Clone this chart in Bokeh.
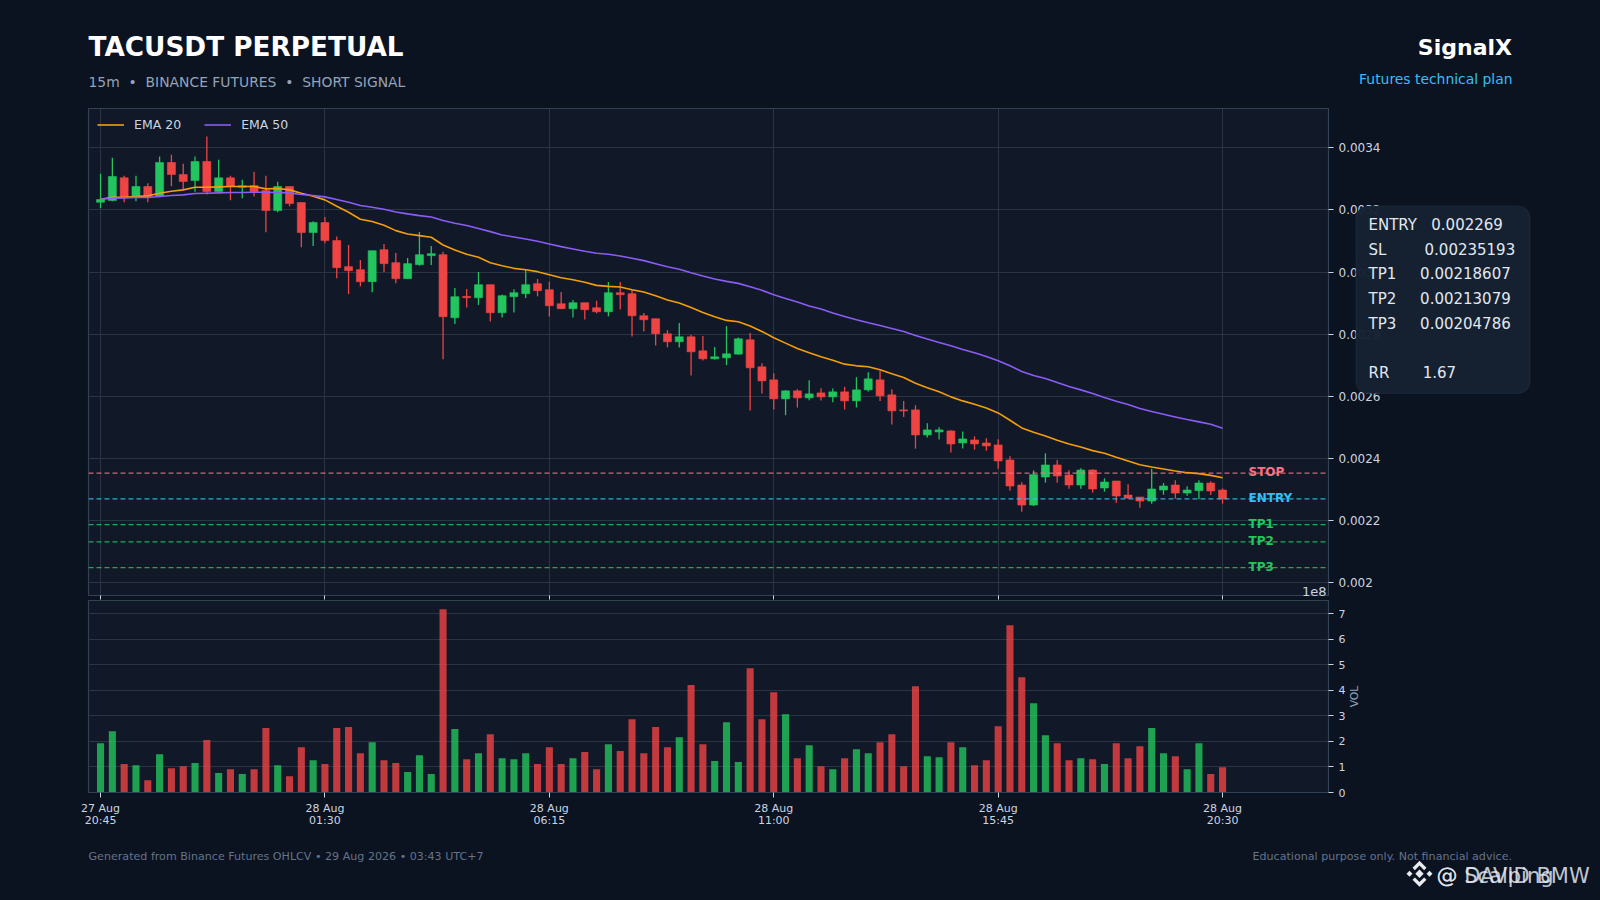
import numpy as np
from bokeh.embed import file_html
from bokeh.resources import INLINE
from bokeh.layouts import column
from bokeh.models import (BoxAnnotation, ColumnDataSource, FixedTicker, Label, Legend, LegendItem,
                          PolyAnnotation, Range1d, Span)
from bokeh.plotting import figure

UNIT = 1e-6  # the price lists below are written in millionths of a USDT
opens = [3224.7,3230.1,3303.2,3240.9,3275.3,3243.0,3352.7,3314.0,3294.6,3355.9,3259.1,3303.2,3273.1,3278.5,3262.4,3197.9,
         3275.3,3223.7,3126.9,3159.1,3101.1,3017.2,3007.5,2968.8,3072.0,3030.1,2978.5,3023.7,3052.7,3055.9,2852.7,2921.5,
         2917.2,2959.1,2868.8,2920.4,2930.1,2962.4,2943.0,2897.8,2881.7,2901.1,2884.9,2872.0,2933.3,2930.1,2859.1,2849.5,
         2801.1,2775.3,2791.4,2746.2,2720.4,2723.6,2735.5,2781.7,2694.6,2652.7,2591.4,2617.2,2594.6,2610.7,2597.8,2614.0,
         2584.9,2620.4,2652.7,2604.3,2555.9,2555.9,2475.2,2484.9,2488.2,2449.4,2459.1,2449.4,2443.0,2394.6,2314.0,2249.4,
         2339.8,2378.5,2346.2,2314.0,2362.3,2304.3,2326.9,2281.7,2275.2,2262.3,2297.8,2314.0,2288.1,2295.7,2320.4,2297.8]
closes = [3233.3,3307.5,3238.7,3275.3,3243.0,3352.7,3314.0,3291.4,3355.9,3259.1,3303.2,3275.3,3277.4,3258.1,3197.9,3275.3,
          3220.4,3126.9,3159.1,3101.1,3014.0,3004.3,2968.8,3068.8,3026.9,2978.5,3026.9,3055.9,3059.1,2855.9,2920.4,2917.2,
          2959.1,2868.8,2923.6,2933.3,2959.1,2939.8,2891.4,2881.7,2901.1,2878.5,2872.0,2933.3,2926.9,2859.1,2846.2,2801.1,
          2775.3,2791.4,2743.0,2720.4,2726.9,2736.5,2784.9,2691.4,2649.4,2591.4,2617.2,2594.6,2607.5,2597.8,2614.0,2584.9,
          2620.4,2655.9,2601.1,2552.7,2552.7,2475.2,2491.4,2491.4,2446.2,2462.3,2446.2,2439.8,2391.4,2310.7,2249.4,2347.3,
          2378.5,2343.0,2314.0,2362.3,2301.1,2323.6,2278.5,2272.0,2262.3,2301.1,2310.7,2288.1,2297.8,2320.4,2294.6,2269.0]
highs = [3316.1,3367.7,3309.7,3309.7,3286.0,3372.0,3377.4,3348.4,3372.0,3436.6,3361.3,3309.7,3296.8,3322.6,3309.7,3290.3,
         3275.3,3223.7,3163.4,3177.4,3114.0,3087.1,3038.7,3068.8,3090.3,3061.3,3045.2,3129.0,3083.9,3065.6,2948.4,2945.2,
         3000.0,2959.1,2927.9,2944.1,3006.4,2977.4,2968.8,2935.5,2909.7,2901.1,2907.5,2967.7,2967.7,2941.9,2867.7,2849.5,
         2812.9,2835.5,2797.8,2793.5,2758.1,2825.8,2789.2,2803.2,2706.4,2674.2,2619.3,2622.6,2651.6,2625.8,2624.7,2630.1,
         2661.3,2677.4,2681.7,2622.6,2584.9,2571.0,2512.9,2500.0,2490.3,2486.0,2470.9,2464.5,2461.3,2406.4,2322.6,2361.3,
         2416.1,2394.6,2361.3,2367.7,2364.5,2335.5,2326.9,2316.1,2275.2,2366.6,2320.4,2329.0,2309.7,2329.0,2325.8,2303.2]
lows = [3205.4,3228.0,3224.7,3228.0,3224.7,3240.9,3276.3,3266.7,3258.1,3249.5,3258.1,3231.2,3237.6,3243.0,3128.0,3192.5,
        3211.8,3079.6,3083.9,3092.5,2979.6,2929.0,2953.8,2934.4,3000.0,2963.4,2978.5,3020.4,3022.6,2719.3,2832.2,2886.0,
        2893.5,2840.9,2853.8,2869.9,2916.1,2921.5,2857.0,2880.6,2853.7,2847.3,2866.7,2857.0,2879.6,2792.5,2808.6,2763.4,
        2757.0,2757.0,2666.7,2715.0,2718.3,2700.0,2733.3,2553.7,2608.6,2557.0,2538.7,2563.4,2587.1,2586.0,2580.6,2557.0,
        2563.4,2615.0,2584.9,2508.6,2533.3,2431.2,2466.6,2460.2,2418.3,2431.2,2427.9,2424.7,2366.6,2295.7,2227.9,2246.2,
        2321.5,2321.5,2302.1,2302.1,2289.2,2292.4,2257.0,2269.9,2240.8,2253.7,2282.7,2269.9,2279.5,2267.7,2281.7,2253.7]
ema20 = [3234.4,3240.9,3240.9,3243.0,3245.2,3253.8,3260.2,3264.5,3273.1,3273.1,3274.2,3275.3,3275.3,3275.3,3267.7,3268.8,
         3264.5,3253.8,3244.1,3232.3,3211.8,3192.5,3169.9,3162.4,3150.5,3133.3,3122.6,3117.2,3111.8,3087.1,3071.0,3057.0,
         3047.3,3030.1,3020.4,3011.8,3007.5,3001.1,2991.4,2981.7,2975.3,2966.7,2957.0,2953.8,2951.6,2943.0,2935.5,2923.6,
         2909.7,2900.0,2886.0,2869.9,2855.9,2844.1,2839.8,2825.8,2808.6,2788.2,2771.0,2753.8,2739.8,2726.9,2716.1,2703.2,
         2697.8,2694.6,2684.9,2672.0,2660.2,2641.9,2626.9,2614.0,2597.8,2584.9,2574.2,2562.3,2546.2,2522.6,2497.8,2483.8,
         2472.0,2458.0,2446.2,2436.5,2424.7,2416.1,2403.2,2391.4,2379.5,2372.0,2365.6,2359.1,2353.7,2350.5,2345.1,2337.6]
ema50 = [3234.4,3237.6,3238.7,3239.8,3239.8,3243.0,3246.2,3248.4,3252.7,3253.8,3254.8,3255.9,3255.9,3257.0,3257.0,3255.9,
         3254.8,3249.5,3246.2,3241.9,3233.3,3224.7,3214.0,3208.6,3202.2,3193.5,3187.1,3181.7,3177.4,3165.6,3157.0,3149.5,
         3139.8,3130.1,3119.4,3112.9,3106.5,3098.9,3090.3,3081.7,3074.2,3066.7,3060.2,3057.0,3051.6,3044.1,3036.6,3026.9,
         3017.2,3008.6,2997.8,2987.1,2977.4,2969.9,2963.4,2952.7,2940.9,2926.9,2915.0,2903.2,2890.3,2880.6,2867.7,2857.0,
         2846.2,2836.6,2827.9,2818.3,2808.6,2795.7,2783.9,2773.1,2762.4,2750.5,2739.8,2727.9,2714.0,2697.8,2679.6,2666.6,
         2657.0,2644.1,2631.2,2620.4,2608.6,2595.7,2583.9,2573.1,2560.2,2550.5,2541.9,2533.3,2524.7,2517.2,2509.7,2496.8]
volumes = [1.93,2.40,1.11,1.07,0.48,1.50,0.95,1.03,1.15,2.05,0.76,0.91,0.72,0.91,2.52,1.07,
           0.64,1.77,1.26,1.11,2.52,2.56,1.54,1.97,1.26,1.15,0.80,1.46,0.72,7.17,2.48,1.30,
           1.54,2.28,1.34,1.30,1.54,1.11,1.77,1.11,1.34,1.58,0.91,1.89,1.62,2.87,1.54,2.56,
           1.77,2.16,4.20,1.89,1.23,2.75,1.19,4.86,2.87,3.92,3.06,1.34,1.85,1.03,0.91,1.34,
           1.69,1.54,1.97,2.28,1.03,4.16,1.42,1.38,1.97,1.77,1.07,1.26,2.59,6.54,4.51,3.49,
           2.24,1.93,1.26,1.34,1.30,1.11,1.93,1.34,1.81,2.52,1.54,1.42,0.91,1.93,0.72,0.99]

level_names = ["STOP", "ENTRY", "TP1", "TP2", "TP3"]
level_values = [0.00235193, 0.002269, 0.00218607, 0.00213079, 0.00204786]
level_colors = ["#fb7185", "#38bdf8", "#22c55e", "#22c55e", "#22c55e"]

x_tick_pos = [0, 19, 38, 57, 76, 95]
x_tick_labels = ["27 Aug\n20:45", "28 Aug\n01:30", "28 Aug\n06:15", "28 Aug\n11:00", "28 Aug\n15:45", "28 Aug\n20:30"]
price_ticks = [0.002, 0.0022, 0.0024, 0.0026, 0.0028, 0.003, 0.0032, 0.0034]
price_tick_labels = ["0.002", "0.0022", "0.0024", "0.0026", "0.0028", "0.003", "0.0032", "0.0034"]
vol_ticks = [0, 1, 2, 3, 4, 5, 6, 7]

NB = "\u00a0"
info_lines = ["ENTRY" + NB * 3 + "0.002269", "SL" + NB * 8 + "0.00235193", "TP1" + NB * 5 + "0.00218607",
              "TP2" + NB * 5 + "0.00213079", "TP3" + NB * 5 + "0.00204786", "RR" + NB * 7 + "1.67"]
info_rows = [0, 1, 2, 3, 4, 6]
subtitle = f"15m{NB*2}•{NB*2}BINANCE FUTURES{NB*2}•{NB*2}SHORT SIGNAL"

BG = "#0b1220"; PANEL = "#111827"; SPINE = "#334155"; GRID = "#2a3444"; TICK = "#cbd5e1"
FONT = "DejaVu Sans"; UP = "#22c55e"; DOWN = "#ef4444"

idx = np.arange(len(opens))
o, c = np.array(opens) * UNIT, np.array(closes) * UNIT
src = ColumnDataSource(dict(
    x=idx, top=np.maximum(o, c), bottom=np.minimum(o, c), high=np.array(highs) * UNIT, low=np.array(lows) * UNIT,
    color=[UP if b >= a else DOWN for a, b in zip(o, c)], vol=volumes,
    ema20=np.array(ema20) * UNIT, ema50=np.array(ema50) * UNIT))


def style(p):
    p.background_fill_color = PANEL
    p.border_fill_color = BG
    p.outline_line_color = SPINE
    p.outline_line_width = 1.2
    p.styles = {"background-color": BG}
    for ax in (p.xaxis[0], p.yaxis[0]):
        ax.axis_line_color = SPINE
        ax.major_tick_line_color = TICK
        ax.major_tick_in = 0
        ax.major_tick_out = 5
        ax.minor_tick_line_color = None
        ax.major_label_text_color = TICK
        ax.major_label_text_font = FONT
    p.xaxis[0].ticker = FixedTicker(ticks=x_tick_pos)
    p.ygrid.grid_line_color = GRID


xr = Range1d(-1.02, 103.97)
p1 = figure(width=1600, height=600, frame_width=1240, frame_height=487, x_range=xr,
            y_range=Range1d(1958.1 * UNIT, 3526.6 * UNIT), y_axis_location="right",
            min_border_left=88, min_border_right=272, min_border_top=108, min_border_bottom=5,
            toolbar_location=None, output_backend="svg")
style(p1)
p1.xgrid.grid_line_color = GRID
p1.xgrid.ticker = FixedTicker(ticks=x_tick_pos)
p1.ygrid.ticker = FixedTicker(ticks=price_ticks)
p1.xaxis[0].major_label_text_color = None
p1.xaxis[0].major_label_text_font_size = "1px"
p1.xaxis[0].major_label_standoff = 0
p1.xaxis[0].major_tick_out = 4
p1.yaxis[0].ticker = FixedTicker(ticks=price_ticks)
p1.yaxis[0].major_label_overrides = dict(zip(price_ticks, price_tick_labels))
p1.yaxis[0].major_label_text_font_size = "12px"

for nm, val, col in zip(level_names, level_values, level_colors):
    p1.add_layout(Span(location=val, dimension="width", line_color=col, line_dash="5 3", line_width=1.2,
                       line_alpha=0.85))
p1.segment("x", "high", "x", "low", source=src, line_color="color", line_width=1.3)
p1.vbar("x", 0.68, "top", "bottom", source=src, fill_color="color", line_color="color", line_width=0.6)
r20 = p1.line("x", "ema20", source=src, line_color="#f59e0b", line_width=1.6)
r50 = p1.line("x", "ema50", source=src, line_color="#8b5cf6", line_width=1.6)
legend = Legend(items=[LegendItem(label="EMA 20", renderers=[r20]), LegendItem(label="EMA 50", renderers=[r50])],
                location="top_left", orientation="horizontal", background_fill_alpha=0, border_line_alpha=0,
                margin=0, padding=9, spacing=23, glyph_width=27, glyph_height=15, label_standoff=10,
                label_text_color=TICK, label_text_font=FONT, label_text_font_size="12.5px")
p1.add_layout(legend, "center")
for nm, val, col in zip(level_names, level_values, level_colors):
    p1.add_layout(Label(x=97.2, y=val, y_offset=1, text=nm, text_color=col, text_font=FONT, text_font_style="bold",
                        text_font_size="12px", text_baseline="middle"))

p2 = figure(width=1600, height=300, frame_width=1240, frame_height=192, x_range=xr,
            y_range=Range1d(0, 7.51), y_axis_location="right",
            min_border_left=88, min_border_right=272, min_border_top=0, min_border_bottom=108,
            toolbar_location=None, output_backend="svg")
style(p2)
p2.xgrid.grid_line_color = None
p2.ygrid.ticker = FixedTicker(ticks=vol_ticks)
p2.yaxis[0].ticker = FixedTicker(ticks=vol_ticks)
p2.yaxis[0].major_label_text_font_size = "11px"
p2.xaxis[0].major_label_overrides = dict(zip(x_tick_pos, x_tick_labels))
p2.xaxis[0].major_label_text_font_size = "11px"
p2.xaxis[0].major_label_text_line_height = 0.95
p2.xaxis[0].major_label_standoff = 4
p2.vbar("x", 0.6, "vol", 0, source=src, fill_color="color", line_color=None, fill_alpha=0.8)

# a transparent page-sized sheet above both panels carries the free texts, the info card and the logo
sheet = figure(width=1600, height=900, x_range=Range1d(0, 1600), y_range=Range1d(900, 0),
               x_axis_type=None, y_axis_type=None, min_border=0, toolbar_location=None, output_backend="svg",
               background_fill_color=None, border_fill_color=None, outline_line_color=None,
               styles={"position": "fixed", "left": "0px", "top": "0px", "z-index": "5"})
sheet.grid.visible = False


def txt(x, y, text, size, color, bold=False, align="left", angle=0.0, alpha=1.0):
    sheet.add_layout(Label(x=x, y=y, text=text, text_font=FONT, text_font_size=f"{size}px", text_color=color,
                           text_align=align, text_baseline="middle", text_font_style="bold" if bold else "normal",
                           angle=angle, text_alpha=alpha))


txt(88, 46, "TACUSDT PERPETUAL", 26.3, "#ffffff", bold=True)
txt(88, 81.5, subtitle, 13.9, "#94a3b8")
txt(1511.5, 46.5, "SignalX", 22, "#ffffff", bold=True, align="right")
txt(1512, 78.5, "Futures technical plan", 13.9, "#38bdf8", align="right")
txt(1326, 591, "1e8", 13, TICK, align="right")
sheet.add_layout(BoxAnnotation(left=1355.5, right=1529.5, top=205.5, bottom=393, fill_color="#162232", fill_alpha=0.97,
                               line_color=SPINE, line_width=1.2, border_radius=12))
for row, line in zip(info_rows, info_lines):
    txt(1368, 224.3 + row * 24.7, line, 15, "#e2e8f0")
txt(1353.5, 696, "VOL", 10.8, "#94a3b8", align="center", angle=np.pi / 2)
txt(88, 856, "Generated from Binance Futures OHLCV • 29 Aug 2026 • 03:43 UTC+7", 11.1, "#64748b")
txt(1511.5, 856, "Educational purpose only. Not financial advice.", 11.1, "#64748b", align="right")

LX, LY = 1419, 873.3
logo = [[(0, -4.2), (4.2, 0), (0, 4.2), (-4.2, 0)],
        [(-10, -3), (-7, 0), (-10, 3), (-13, 0)],
        [(10, -3), (13, 0), (10, 3), (7, 0)],
        [(0, -13), (7, -6), (4.6, -3.6), (0, -8.2), (-4.6, -3.6), (-7, -6)],
        [(0, 13), (7, 6), (4.6, 3.6), (0, 8.2), (-4.6, 3.6), (-7, 6)]]
for shape in logo:
    sheet.add_layout(PolyAnnotation(xs=[LX + a for a, b in shape], ys=[LY + b for a, b in shape],
                                    fill_color="#e8ecf0", fill_alpha=1, line_color=None))
txt(1436, 875, "@ Scalping", 21, "#e2e8f0", alpha=0.85)
txt(1436, 875, "@ DAVID BMW", 21, "#e2e8f0", alpha=0.85)

page = column(p1, p2, spacing=0, styles={"position": "fixed", "left": "0px", "top": "0px", "background-color": BG})
open("out.html", "w").write(file_html([page, sheet], INLINE))
